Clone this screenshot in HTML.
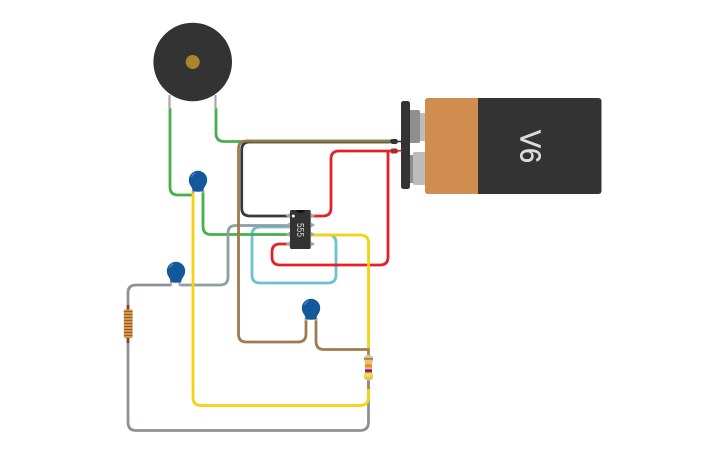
<!DOCTYPE html>
<html><head><meta charset="utf-8"><style>html,body{margin:0;padding:0;background:#fff}svg{display:block}</style></head>
<body>
<svg width="725" height="453" viewBox="0 0 725 453" xmlns="http://www.w3.org/2000/svg" font-family="'Liberation Sans',sans-serif">
<defs><g id="cap"><path d="M-9.200 0a9.200 9.200 0 0 1 18.400 0c0 5.500-3.700 6.500-4 11q-5.200 1.500-10.400 0c-.3-4.500-4-5.500-4-11z" fill="#14589c"/><path d="M-6.500-3a6.500 6.500 0 0 1 4-4" stroke="#4c86bd" stroke-width="1.200" fill="none"/></g></defs>
<g fill="none" stroke-width="2.800" stroke-linecap="butt">
<path d="M290 227H260Q252 227 252 235V275Q252 283 260 283H328Q336 283 336 275V243Q336 235 328 235H311" stroke="#6cc2d0"/>
<path d="M216 108V133Q216 141.500 224 141.500H246" stroke="#46b04a"/>
<path d="M170 108V187Q170 195 178 195H193" stroke="#46b04a"/>
<path d="M203 191V226Q203 234.500 211 234.500H290" stroke="#46b04a"/>
<path d="M390 142H250Q241.700 142 241.700 150V208Q241.700 216 250 216H290" stroke="#3a3a3a"/>
<path d="M311 216H323Q331 216 331 208V159Q331 151 339 151H390" stroke="#e3212a"/>
<path d="M288 244H280Q272 244 272 252V257Q272 265 280 265H380Q388 265 388 257V151" stroke="#e3212a"/>
<path d="M290 225.500H236Q228 225.500 228 233V277Q228 285 220 285H180" stroke="#8f9ea3"/>
<path d="M171 285H136Q128 285 128 293V310M128 338V422Q128 430.500 136 430.500H360Q368.500 430.500 368.500 422V380" stroke="#8f9294"/>
<path d="M311 235H360Q368.500 235 368.500 243V350" stroke="#f4d310"/>
<path d="M193 190V397Q193 405.500 201 405.500H360Q368.500 405.500 368.500 397V385" stroke="#f4d310"/>
<path d="M306 318V334Q306 342 298 342H246Q238.500 342 238.500 334V149Q238.500 141 246 141H392" stroke="#a07a50"/>
<path d="M246 141H392" stroke="#8c7b46"/>
<path d="M316 318V341Q316 349.500 324 349.500H368.500" stroke="#a07a50"/>
</g>
<g stroke="#a8a8a8" stroke-width="2.200" fill="none">
<path d="M169.500 95V109M215.500 95V109"/>
<path d="M193.300 186V193M202.700 186V193M171 279V286M179.700 279V286M306 314V321M316 314V321"/>
<path d="M368.500 348V356M368.500 379V389" stroke="#8f9070" stroke-width="2.800"/>
</g>
<circle cx="192.700" cy="62" r="39.300" fill="#333"/>
<circle cx="192.700" cy="62" r="7" fill="#a9832e"/>
<use href="#cap" x="198" y="180"/>
<use href="#cap" x="176" y="271"/>
<use href="#cap" x="311" y="308"/>
<path d="M128 305V343" stroke="#8a3f14" stroke-width="2.600"/>
<rect x="123.800" y="309.500" width="8.800" height="28.500" rx="1" fill="#cf9a50"/>
<path d="M124 311.500H132.500M124 314.500H132.500M124 317.500H132.500M124 320.500H132.500M124 323.500H132.500M124 326.500H132.500M124 329.500H132.500M124 332.500H132.500M124 335.500H132.500" stroke="#9a5a24" stroke-width="1"/>
<path d="M368.500 355c3 0 4.700 2 4.700 4.200 0 2-1.200 3-1.200 4.300v9c0 1.300 1.200 2.300 1.200 4.300 0 2.200-2 3.700-4.700 3.700s-4.700-1.500-4.700-3.700c0-2 1.200-3 1.200-4.300v-9c0-1.300-1.200-2.300-1.200-4.300 0-2.200 1.700-4.200 4.700-4.200z" fill="#e3c084"/>
<rect x="364" y="358.200" width="9" height="1.400" fill="#8a7a30"/>
<rect x="365" y="364.300" width="7" height="3" fill="#f08a1e"/>
<rect x="365" y="369.300" width="7" height="3" fill="#8c1a8c"/>
<rect x="364" y="373.600" width="9" height="3" fill="#f5e60f"/>
<rect x="290" y="210" width="20.700" height="39" rx="1.500" fill="#333"/>
<path d="M296 210a4.500 3 0 0 0 9 0z" fill="#111"/>
<circle cx="293.300" cy="216" r="1.500" fill="#fff"/>
<g fill="#a8a8a8">
<path d="M290 213l-4.500 2.700 4.500 2.700zM290 222.300l-4.500 2.700 4.500 2.700zM290 231.600l-4.500 2.700 4.500 2.700zM290 241.300l-4.500 2.700 4.500 2.700z"/>
<path d="M310.700 213l4.500 2.700-4.500 2.700zM310.700 222.300l4.500 2.700-4.500 2.700zM310.700 231.600l4.500 2.700-4.500 2.700zM310.700 241.300l4.500 2.700-4.500 2.700z"/>
</g>
<text transform="translate(297 230) rotate(90)" font-size="10" fill="#dedede" text-anchor="middle" textLength="14" lengthAdjust="spacingAndGlyphs">555</text>
<rect x="420" y="113" width="6" height="28" fill="#bcbcbc"/>
<rect x="409" y="110" width="11" height="33" rx="2" fill="#8f8f8f"/>
<rect x="409" y="155" width="6" height="28" fill="#8f8f8f"/>
<rect x="413" y="152" width="13" height="33" rx="2" fill="#bcbcbc"/>
<rect x="401" y="101" width="9" height="88" rx="2.500" fill="#333"/>
<rect x="425" y="98" width="176.500" height="96" rx="3" fill="#333"/>
<path d="M478 98H428a3 3 0 0 0-3 3v90a3 3 0 0 0 3 3h50z" fill="#d18d50"/>
<text transform="translate(520.500 146.500) rotate(90)" font-size="29" fill="#dcdcdc" stroke="#dcdcdc" stroke-width=".5" text-anchor="middle" textLength="33" lengthAdjust="spacingAndGlyphs">V6</text>
<path d="M395 141.500H402" stroke="#333" stroke-width="1.500"/>
<path d="M395 150.800H402" stroke="#c8232a" stroke-width="1.500"/>
<rect x="390" y="139" width="8" height="5" rx="2.500" fill="#333"/>
<rect x="390" y="148.500" width="8" height="5" rx="2.500" fill="#b3272c"/>
</svg>
</body></html>
